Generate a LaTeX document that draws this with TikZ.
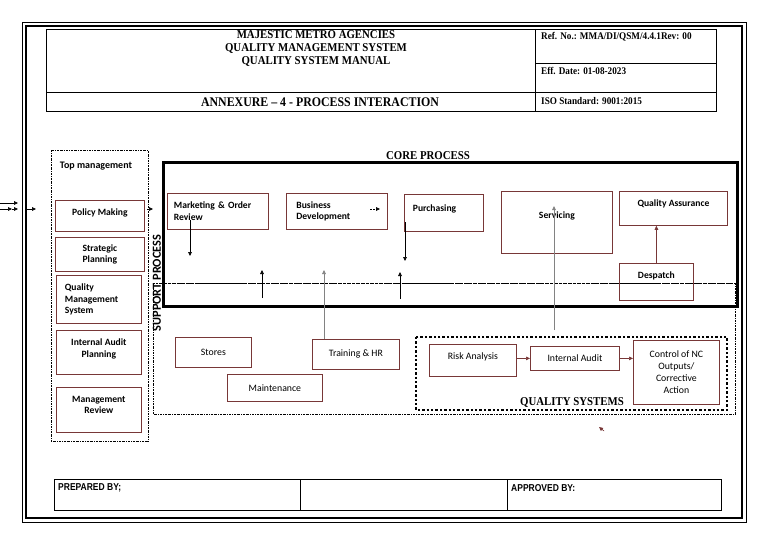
\documentclass[tikz,border=0pt]{standalone}
\usepackage{fontspec}
\setmainfont{Carlito}
\newfontfamily\hdr[FakeStretch=0.9]{Liberation Serif}
\newfontfamily\ftr[FakeStretch=0.85]{Liberation Sans}
\usetikzlibrary{arrows.meta}
\definecolor{brd}{RGB}{120,55,55}
\definecolor{gln}{RGB}{130,130,130}
\begin{document}
\begin{tikzpicture}[x=1pt,y=-1pt,
  bx/.style={draw=brd, line width=0.8pt, inner sep=2pt, align=center, anchor=north west, font=\fontsize{9.8}{12}\selectfont},
  bxb/.style={bx, font=\fontsize{9.6}{11.5}\selectfont\bfseries},
  tip/.style={-{Triangle[length=4pt,width=3.6pt]}, line width=0.6pt},
  rtip/.style={tip, draw=brd, fill=brd},
  gtip/.style={tip, draw=gln},
  hdrtxt/.style={font=\hdr\bfseries\fontsize{12}{12.5}\selectfont, align=center, inner sep=0},
  reftxt/.style={font=\hdr\bfseries\fontsize{10.2}{11}\selectfont, anchor=west, inner sep=0},
  ftrtxt/.style={font=\ftr\bfseries\fontsize{10}{11}\selectfont, anchor=west, inner sep=0},
  dotbox/.style={line width=0.7pt, dash pattern=on 2pt off 1pt on 0.6pt off 1pt},
  qsbox/.style={line width=2.4pt, dash pattern=on 2.4pt off 2pt},
  caps/.style={font=\hdr\bfseries\fontsize{12}{13}\selectfont, inner sep=0}
]
\useasboundingbox (0,0) rectangle (768,543);
\fill[white] (0,0) rectangle (768,543);
% outer frame
\draw[line width=0.8pt] (22,22) rectangle (746,522);
\draw[line width=1.2pt] (26,26) rectangle (742,518);
% header table
\draw[line width=0.9pt] (46,29) rectangle (716,111);
\draw[line width=0.9pt] (46,92) -- (716,92);
\draw[line width=0.9pt] (535,29) -- (535,111);
\draw[line width=0.9pt] (535,63) -- (716,63);
\node[hdrtxt] (title) at (316,48.5) {MAJESTIC METRO AGENCIES\\QUALITY MANAGEMENT SYSTEM\\QUALITY SYSTEM MANUAL};
\node[hdrtxt, font=\hdr\bfseries\fontsize{13.2}{14}\selectfont] (annex) at (320,102) {ANNEXURE – 4 - PROCESS INTERACTION};
\node[reftxt] (ref) at (541,37) {Ref. No.: MMA/DI/QSM/4.4.1Rev: 00};
\node[reftxt] (eff) at (541,71) {Eff. Date: 01-08-2023};
\node[reftxt] (iso) at (541,101) {ISO Standard: 9001:2015};

% top management
\draw[dotbox] (51,150) rectangle (148,441);
\node[font=\fontsize{10}{11}\selectfont\bfseries] (topm) at (96,166) {Top management};
\node[bxb, minimum width=89pt, minimum height=31pt, text depth=8pt] (pm) at (55,200) {Policy Making};
\node[bxb, minimum width=89pt, minimum height=34pt] (sp) at (55,237) {Strategic\\Planning};
\node[bxb, minimum width=85pt, minimum height=48pt, text width=68pt, align=left] (qms) at (56,275) {Quality\\Management\\System};
\node[bxb, minimum width=85pt, minimum height=44pt, text depth=9pt] (iap) at (56,330) {Internal Audit\\Planning};
\node[bxb, minimum width=85pt, minimum height=45pt, text depth=10pt] (mr) at (56,387) {Management\\Review};

% left arrows
\coordinate (la1) at (0,203); \coordinate (la1e) at (18,203);
\coordinate (la2) at (0,209); \coordinate (la2m) at (12,209); \coordinate (la2e) at (18,209);
\coordinate (la3) at (27,209); \coordinate (la3e) at (36,209);
\coordinate (la4) at (147,209); \coordinate (la4e) at (153,209);
\draw[tip] (la1) -- (la1e);
\draw[tip] (la2) -- (la2m);
\draw[tip] (la2m) -- (la2e);
\draw[tip] (la3) -- (la3e);
\draw[tip] (la4) -- (la4e);

% support process box
\draw[dotbox] (153,283) rectangle (735,414);
\draw[line width=0.7pt, dash pattern=on 3pt off 1.5pt] (163,283) -- (733,283);
\node[rotate=90, font=\fontsize{12.3}{13}\selectfont\bfseries, inner sep=0] (supp) at (157,283) {SUPPORT PROCESS};

% core process box
\node[draw, line width=3pt, minimum width=574pt, minimum height=144pt, anchor=north west, inner sep=0] (core) at (162,161) {};
\node[caps] (coret) at (428,156) {CORE PROCESS};

\node[bxb, minimum width=101pt, minimum height=36pt, text width=88pt, align=left] (mk) at (167,193) {Marketing \& Order\\Review};
\node[bxb, minimum width=101pt, minimum height=36pt, text width=81pt, align=left] (bd) at (286,193) {Business\\Development};
\node[bxb, minimum width=79pt, minimum height=37pt, text width=62pt, align=left, text depth=10pt] (pu) at (404,194) {Purchasing};
\node[bxb, minimum width=111pt, minimum height=62pt, text depth=14pt] (sv) at (501,191) {Servicing};
\node[bxb, minimum width=108pt, minimum height=34pt, text depth=10pt] (qa) at (619,191) {Quality Assurance};
\node[bxb, minimum width=74pt, minimum height=37pt, text depth=13pt] (de) at (619,263) {Despatch};

% core arrows
\coordinate (mka) at (190,220); \coordinate (mkb) at (190,256);
\draw[tip] (mka) -- (mkb);
\coordinate (bda) at (370,209); \coordinate (bdb) at (380,209);
\draw[tip, dash pattern=on 2pt off 1pt] (bda) -- (bdb);
\coordinate (pua) at (405,222); \coordinate (pub) at (405,261);
\draw[tip] (pua) -- (pub);
\coordinate (u1a) at (262,298); \coordinate (u1b) at (262,270);
\draw[tip] (u1a) -- (u1b);
\coordinate (u3a) at (400,299); \coordinate (u3b) at (400,272);
\draw[tip] (u3a) -- (u3b);
\draw[rtip] (de.north) -- (de.north |- qa.south);

% support boxes
\node[bx, minimum width=76pt, minimum height=30pt] (st) at (175,337) {Stores};
\node[bx, minimum width=95pt, minimum height=27pt] (ma) at (227,374) {Maintenance};
\node[bx, minimum width=87pt, minimum height=30pt] (tr) at (312,339) {Training \& HR};
\coordinate (u2b) at (324,270);
\draw[gtip] (tr.north -| u2b) -- (u2b);

% quality systems
\draw[qsbox] (416,337) rectangle (727,410);
\node[caps] (qst) at (572,402) {QUALITY SYSTEMS};
\node[bx, minimum width=87pt, minimum height=32pt, text depth=8pt] (ra) at (429,344) {Risk Analysis};
\node[bx, minimum width=89pt, minimum height=24pt] (ia) at (530,346) {Internal Audit};
\node[bx, minimum width=86pt, minimum height=64pt] (nc) at (633,340) {Control of NC\\Outputs/\\Corrective\\Action};
\draw[rtip] (ia.west -| ra.east) -- (ia.west);
\draw[rtip] (ia.east) -- (ia.east -| nc.west);
\coordinate (sva) at (554,330); \coordinate (svb) at (554,206);
\draw[gtip, line width=0.8pt] (sva) -- (svb);
\coordinate (sta) at (604,431); \coordinate (stb) at (599,427);
\draw[rtip] (sta) -- (stb);

% footer table
\draw[line width=0.9pt] (54,479) rectangle (721,510);
\draw[line width=0.9pt] (300,479) -- (300,510);
\draw[line width=0.9pt] (507,479) -- (507,510);
\node[ftrtxt] (prep) at (58,488) {PREPARED BY;};
\node[ftrtxt] (appr) at (511,488) {APPROVED BY:};
\end{tikzpicture}
\end{document}
